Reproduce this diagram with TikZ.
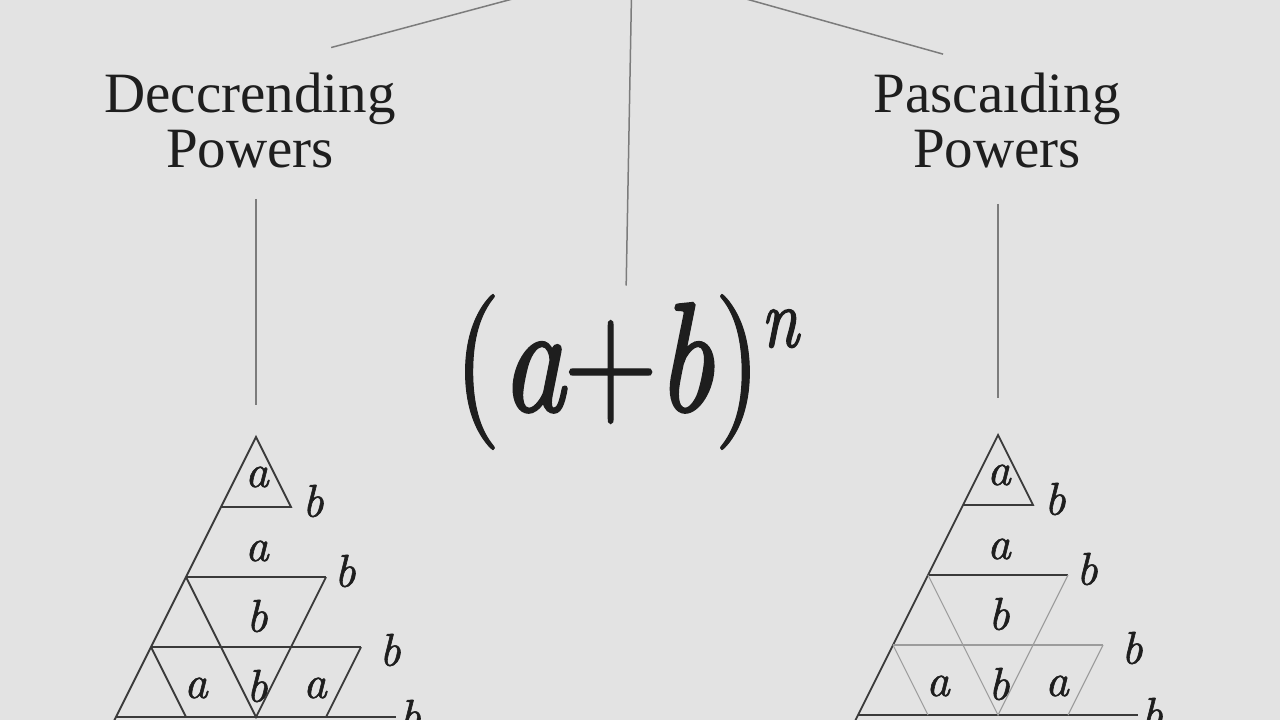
\documentclass[tikz,border=0pt]{standalone}
\usepackage[no-math]{fontspec}
\usepackage{graphicx}
\newfontfamily\titlefont{Liberation Serif}
\newfontfamily\bigup{lmroman10-regular.otf}[FakeBold=0.8]
\newfontfamily\bigit{lmroman10-italic.otf}[FakeBold=1.8]
\newfontfamily\labit{lmroman10-italic.otf}[FakeBold=1.2]
\definecolor{paper}{HTML}{E3E3E3}
\definecolor{ink}{HTML}{1E1E1E}
\definecolor{wire}{HTML}{7C7C7C}
\definecolor{edge}{HTML}{3A3A3A}
\definecolor{faint}{HTML}{9C9C9C}
\begin{document}
\begin{tikzpicture}[x=1pt,y=-1pt,
    link/.style={draw=wire,line width=1.5pt},
    title/.style={font=\titlefont\fontsize{57}{55}\selectfont,text=ink,align=center,inner sep=4pt},
    lab/.style={font=\labit\fontsize{46}{48}\selectfont,text=ink,inner sep=0pt},
    tri/.style={draw=edge,line width=1.8pt}]
    \useasboundingbox (0,0) rectangle (1280,720);
    \fill[paper] (0,0) rectangle (1280,720);
    \clip (0,0) rectangle (1280,720);

    \coordinate (root) at (632,-33);
    \node[title] (dec) at (250,121) {Deccrending\\Powers};
    \node[title] (pas) at (997,121) {Pascaıding\\Powers};
    \node[text=ink,inner sep=0pt,outer sep=0pt] (binom) at (626,372)
        {\bigup\fontsize{155}{160}\selectfont\scalebox{0.8}[1]{({\bigit a}\kern-3pt+\kern-3pt{\bigit b\/})\kern-1pt\raisebox{64pt}{\bigit\fontsize{84}{84}\selectfont n}}};

    % the two triangles of powers
    \foreach \ax/\ay/\ic/\iw/\tag in {256/437/edge/1.8/dec, 998/435/faint/1.1/pas} {
        \begin{scope}[shift={(\ax,\ay)}]
            \coordinate (\tag-apex) at (0,0);
            \draw[tri] (-175,350) -- (0,0) -- (35,70) -- (-35,70);
            \draw[tri] (-70,140) -- (70,140);
            \draw[tri] (-140,280) -- (140,280);
            \draw[tri,draw=\ic,line width=\iw pt] (-105,210) -- (105,210);
            \draw[tri,draw=\ic,line width=\iw pt] (-70,140) -- (0,280) -- (70,140);
            \draw[tri,draw=\ic,line width=\iw pt] (-105,210) -- (-70,280);
            \draw[tri,draw=\ic,line width=\iw pt] (105,210) -- (70,280);
            \node[lab] (\tag-a1) at (1,40) {a};
            \node[lab] (\tag-b1) at (57,64) {b};
            \node[lab] (\tag-a2) at (1,114) {a};
            \node[lab] (\tag-b2) at (89,134) {b};
            \node[lab] (\tag-b3) at (1,179) {b};
            \node[lab] (\tag-b4) at (134,213) {b};
            \node[lab] (\tag-a5) at (-60,251) {a};
            \node[lab] (\tag-b5) at (1,249) {b};
            \node[lab] (\tag-a6) at (59,251) {a};
            \node[lab] (\tag-b6) at (154,279) {b};
        \end{scope}
    }

    \draw[link,shorten >=84pt] (root) -- (dec.north);
    \draw[link,shorten >=56pt] (root) -- (pas.north);
    \draw[link,shorten >=9pt] (root) -- (binom.north);
    \draw[link,shorten <=26pt,shorten >=32pt] (dec.south -| dec-apex) -- (dec-apex);
    \draw[link,shorten <=31pt,shorten >=37pt] (pas.south -| pas-apex) -- (pas-apex);
\end{tikzpicture}
\end{document}
